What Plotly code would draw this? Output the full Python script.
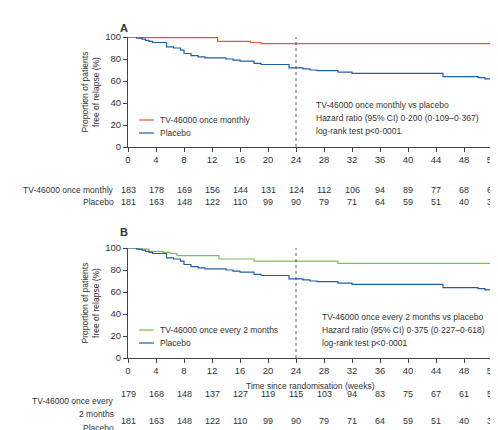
import plotly.graph_objects as go

weeks = [0, 4, 8, 12, 16, 20, 24, 28, 32, 36, 40, 44, 48, 52]

# step curves (week, % free of relapse)
placebo_t = [0, 1.2, 2, 2.5, 3, 3.5, 5.5, 6.5, 7.5, 8, 9, 10, 11, 14, 15, 16, 18, 19, 23, 25, 26, 27, 30, 32, 45, 50, 51, 52]
placebo_s = [100, 99, 98, 97, 96, 95, 91, 90, 88, 85, 83, 82, 81, 80, 79, 78, 76, 75, 72, 71, 70, 69.5, 68, 67, 64, 63, 62, 62]
monthly_t = [0, 1.5, 12.8, 17.5, 19, 52]
monthly_s = [100, 99.5, 96, 95, 94, 94]
q2m_t = [0, 1.5, 3, 5, 6, 7, 13, 18, 30, 52]
q2m_s = [100, 99, 97, 96, 95, 93, 90, 88, 86, 86]

risk_monthly = [183, 178, 169, 156, 144, 131, 124, 112, 106, 94, 89, 77, 68, 61]
risk_placebo = [181, 163, 148, 122, 110, 99, 90, 79, 71, 64, 59, 51, 40, 36]
risk_q2m = [179, 168, 148, 137, 127, 119, 115, 103, 94, 83, 75, 67, 61, 54]

RED, BLUE, GREEN = "#e5534b", "#1f5fa6", "#7cbf4f"
FONT = "Liberation Sans, Arial, sans-serif"
FS = 8.5
W, H = 498, 430

def py(px):
    return 1 - px / H

fig = go.Figure()
fig.add_trace(go.Scatter(x=monthly_t, y=monthly_s, mode="lines", line_shape="hv",
                         line=dict(color=RED, width=1.2), xaxis="x", yaxis="y"))
fig.add_trace(go.Scatter(x=placebo_t, y=placebo_s, mode="lines", line_shape="hv",
                         line=dict(color=BLUE, width=1.2), xaxis="x", yaxis="y"))
fig.add_trace(go.Scatter(x=q2m_t, y=q2m_s, mode="lines", line_shape="hv",
                         line=dict(color=GREEN, width=1.2), xaxis="x2", yaxis="y2"))
fig.add_trace(go.Scatter(x=placebo_t, y=placebo_s, mode="lines", line_shape="hv",
                         line=dict(color=BLUE, width=1.2), xaxis="x2", yaxis="y2"))

xd = [120 / W, 484 / W]
ax = dict(range=[0, 52], tickvals=weeks, showline=True, linecolor="#444", linewidth=1, ticks="outside",
          ticklen=4, tickcolor="#444", showgrid=False, zeroline=False, tickfont=dict(size=9.5),
          domain=xd, automargin=False)
ay = dict(range=[0, 100], tickvals=[0, 20, 40, 60, 80, 100], showline=True, linecolor="#444", linewidth=1,
          ticks="outside", ticklen=4, tickcolor="#444", showgrid=False, zeroline=False, tickfont=dict(size=9.5),
          automargin=False,
          title=dict(text="Proportion of patients<br>free of relapse (%)", font=dict(size=FS), standoff=4))
fig.update_layout(
    width=W, height=H, margin=dict(l=0, r=0, t=0, b=0), plot_bgcolor="white", paper_bgcolor="white",
    font=dict(family=FONT, color="#333", size=FS), showlegend=False,
    xaxis=dict(ax, anchor="y"),
    yaxis=dict(ay, domain=[py(139), py(29)], anchor="x"),
    xaxis2=dict(ax, anchor="y2"),
    yaxis2=dict(ay, domain=[py(350), py(240)], anchor="x2"),
)

for xr, yr in (("x", "y"), ("x2", "y2")):
    fig.add_shape(type="line", xref=xr, yref=yr, x0=24, x1=24, y0=0, y1=100,
                  line=dict(color="#333", width=0.8, dash="dot"))

ann = []
def txt(text, xpx, ypx, xanchor="left", size=FS, **kw):
    ann.append(dict(text=text, x=xpx / W, y=py(ypx), xref="paper", yref="paper", xanchor=xanchor,
                    yanchor="middle", showarrow=False, font=dict(size=size), **kw))

# legends drawn as line + label
def legend_item(color, label, ypx):
    fig.add_shape(type="line", xref="paper", yref="paper", x0=131 / W, x1=146 / W, y0=py(ypx), y1=py(ypx),
                  line=dict(color=color, width=1.2))
    txt(label, 150, ypx)

legend_item(RED, "TV-46000 once monthly", 112)
legend_item(BLUE, "Placebo", 125)
legend_item(GREEN, "TV-46000 once every 2 months", 322)
legend_item(BLUE, "Placebo", 335)

ann.append(dict(text="<b>A</b>", x=110 / W, y=py(12), xref="paper", yref="paper", showarrow=False,
                font=dict(size=11)))
ann.append(dict(text="<b>B</b>", x=110 / W, y=py(224), xref="paper", yref="paper", showarrow=False,
                font=dict(size=11)))
for i, line in enumerate(["TV-46000 once monthly vs placebo", "Hazard ratio (95% CI) 0·200 (0·109–0·367)",
                          "log-rank test p<0·0001"]):
    txt(line, 306, 97 + i * 13)
for i, line in enumerate(["TV-46000 once every 2 months vs placebo", "Hazard ratio (95% CI) 0·375 (0·227–0·618)",
                          "log-rank test p<0·0001"]):
    txt(line, 312, 309 + i * 13)
txt("Time since randomisation (weeks)", 302, 378, xanchor="center")

def risk_row(label, vals, xr, ypx):
    txt(label, 108, ypx, xanchor="right")
    for w, v in zip(weeks, vals):
        ann.append(dict(text=str(v), x=w, y=py(ypx), xref=xr, yref="paper", showarrow=False,
                        font=dict(size=9)))

risk_row("TV-46000 once monthly", risk_monthly, "x", 182)
risk_row("Placebo", risk_placebo, "x", 194)
risk_row("TV-46000 once every", risk_q2m, "x2", 393)
txt("2 months", 108, 406, xanchor="right")
risk_row("Placebo", risk_placebo, "x2", 420)
fig.update_layout(annotations=ann)

fig.write_html("out.html")
